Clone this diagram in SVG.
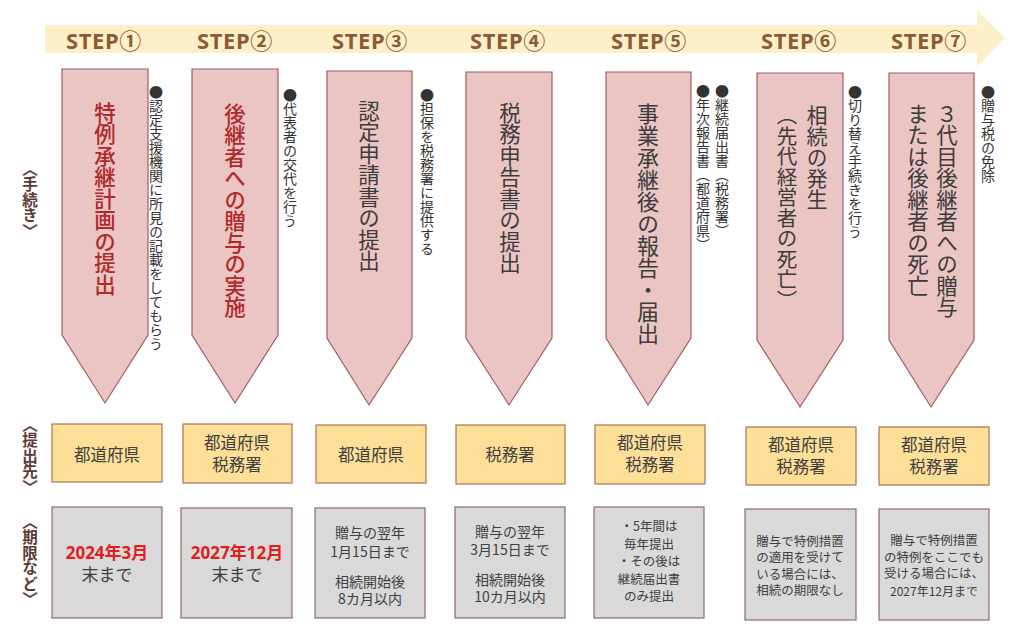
<svg xmlns="http://www.w3.org/2000/svg" width="1024" height="635" viewBox="0 0 1024 635">
<style>
.step{font-family:"Noto Sans","Noto Sans CJK JP",sans-serif;font-weight:bold;font-size:22px;letter-spacing:0.6px;fill:#8C5B35;text-anchor:middle;}
.arrow{fill:#EBC4C4;stroke:#9E5F5F;stroke-width:1.2;}
.v{writing-mode:vertical-rl;font-family:"Noto Sans CJK JP",sans-serif;}
.main{font-size:21.5px;fill:#3C3C3C;}
.mainred{font-size:21.5px;fill:#B02A2A;font-weight:500;}
.note{font-size:14px;fill:#333;}
.lbl{font-size:15.5px;fill:#5C3A32;font-weight:bold;}
.dest{fill:#FDDF98;stroke:#A87452;stroke-width:1.2;}
.due{fill:#D9D9D9;stroke:#8E6A6A;stroke-width:1.2;}
.bt{font-family:"Noto Sans CJK JP",sans-serif;font-size:16.5px;fill:#404040;text-anchor:middle;}
.st{font-family:"Noto Sans CJK JP",sans-serif;font-size:14px;fill:#404040;text-anchor:middle;}
.sm{font-family:"Noto Sans CJK JP",sans-serif;font-size:12.5px;fill:#404040;text-anchor:middle;}
.xs{font-family:"Noto Sans CJK JP",sans-serif;font-size:12.5px;fill:#404040;text-anchor:middle;}
.red{font-family:"Noto Sans","Noto Sans CJK JP",sans-serif;font-size:17px;font-weight:bold;fill:#E02020;text-anchor:middle;}
</style>
<rect width="1024" height="635" fill="#FFFFFF"/>

<g id="connectors">
<polygon id="timeline" points="45,25 977,25 977,10 1005,38 977,67 977,53 45,53" fill="#FDF0C9"/>
</g>

<g id="step-labels">
<text class="step" x="104" y="49">STEP①</text>
<text class="step" x="235" y="49">STEP②</text>
<text class="step" x="370" y="49">STEP③</text>
<text class="step" x="508" y="49">STEP④</text>
<text class="step" x="649" y="49">STEP⑤</text>
<text class="step" x="799" y="49">STEP⑥</text>
<text class="step" x="929" y="49">STEP⑦</text>
</g>

<g id="row-labels">
<text class="v lbl" x="30" y="161">〈手続き〉</text>
<text class="v lbl" x="30" y="417">〈提出先〉</text>
<text class="v lbl" x="30" y="514">〈期限など〉</text>
</g>

<g id="step1">
<polygon class="arrow" points="62,69 148,69 148,335 105,403 62,335"/>
<text class="v mainred" x="105" y="102">特例承継計画の提出</text>
<text class="v note" x="156" y="85">●認定支援機関に所見の記載をしてもらう</text>
<rect class="dest" x="52" y="424" width="110" height="58"/>
<text class="bt" x="107" y="461">都道府県</text>
<rect class="due" x="52" y="507" width="110" height="111"/>
<text class="red" x="107" y="559">2024年3月</text>
<text class="bt" x="107" y="581" style="font-size:17px">末まで</text>
</g>

<g id="step2">
<polygon class="arrow" points="192,69 278,69 278,335 235,403 192,335"/>
<text class="v mainred" x="235" y="103">後継者への贈与の実施</text>
<text class="v note" x="290" y="88">●代表者の交代を行う</text>
<rect class="dest" x="183" y="424" width="109" height="59"/>
<text class="bt" x="237" y="449">都道府県</text>
<text class="bt" x="237" y="471">税務署</text>
<rect class="due" x="181" y="508" width="111" height="110"/>
<text class="red" x="237" y="559">2027年12月</text>
<text class="bt" x="237" y="581" style="font-size:17px">末まで</text>
</g>

<g id="step3">
<polygon class="arrow" points="327,71 412,71 412,338 369,405 327,338"/>
<text class="v main" x="369" y="100">認定申請書の提出</text>
<text class="v note" x="427" y="88">●担保を税務署に提供する</text>
<rect class="dest" x="316" y="425" width="110" height="58"/>
<text class="bt" x="371" y="461">都道府県</text>
<rect class="due" x="315" y="508" width="110" height="110"/>
<text class="st" x="370" y="538">贈与の翌年</text>
<text class="st" x="370" y="557">1月15日まで</text>
<text class="st" x="370" y="587">相続開始後</text>
<text class="st" x="370" y="604">8カ月以内</text>
</g>

<g id="step4">
<polygon class="arrow" points="466,72 552,72 552,338 509,405 466,338"/>
<text class="v main" x="510" y="102">税務申告書の提出</text>
<rect class="dest" x="456" y="425" width="109" height="59"/>
<text class="bt" x="510" y="461">税務署</text>
<rect class="due" x="455" y="507" width="110" height="111"/>
<text class="st" x="510" y="537">贈与の翌年</text>
<text class="st" x="510" y="555">3月15日まで</text>
<text class="st" x="510" y="585">相続開始後</text>
<text class="st" x="510" y="602">10カ月以内</text>
</g>

<g id="step5">
<polygon class="arrow" points="606,72 691,72 691,338 648,405 606,338"/>
<text class="v main" x="648" y="103" style="font-size:22px">事業承継後の報告・届出</text>
<text class="v note" x="722" y="84">●継続届出書（税務署）</text>
<text class="v note" x="703" y="84">●年次報告書（都道府県）</text>
<rect class="dest" x="595" y="425" width="110" height="59"/>
<text class="bt" x="650" y="449">都道府県</text>
<text class="bt" x="650" y="471">税務署</text>
<rect class="due" x="594" y="507" width="110" height="111"/>
<text class="sm" x="649" y="531">・5年間は</text>
<text class="sm" x="649" y="548.5">毎年提出</text>
<text class="sm" x="649" y="566">・その後は</text>
<text class="sm" x="649" y="583.5">継続届出書</text>
<text class="sm" x="649" y="601">のみ提出</text>
</g>

<g id="step6">
<polygon class="arrow" points="757,73 843,73 843,340 800,407 757,340"/>
<text class="v main" x="817" y="105" style="font-size:21px">相続の発生</text>
<text class="v main" x="787" y="105" style="font-size:20.5px">（先代経営者の死亡）</text>
<text class="v note" x="855" y="85">●切り替え手続きを行う</text>
<rect class="dest" x="746" y="427" width="110" height="58"/>
<text class="bt" x="801" y="451">都道府県</text>
<text class="bt" x="801" y="473">税務署</text>
<rect class="due" x="745" y="509" width="111" height="111"/>
<text class="xs" x="800" y="545.5">贈与で特例措置</text>
<text class="xs" x="800" y="562">の適用を受けて</text>
<text class="xs" x="800" y="578.5">いる場合には、</text>
<text class="xs" x="800" y="595">相続の期限なし</text>
</g>

<g id="step7">
<polygon class="arrow" points="889,73 974,73 974,340 931,407 889,340"/>
<text class="v main" x="947" y="103">３代目後継者への贈与</text>
<text class="v main" x="918" y="103">または後継者の死亡</text>
<text class="v note" x="988" y="85">●贈与税の免除</text>
<rect class="dest" x="879" y="427" width="110" height="58"/>
<text class="bt" x="934" y="451">都道府県</text>
<text class="bt" x="934" y="473">税務署</text>
<rect class="due" x="879" y="509" width="110" height="111"/>
<text class="xs" x="934" y="545">贈与で特例措置</text>
<text class="xs" x="934" y="561.5">の特例をここでも</text>
<text class="xs" x="934" y="578">受ける場合には、</text>
<text class="xs" x="934" y="595.5" style="font-size:12px">2027年12月まで</text>
</g>
</svg>
